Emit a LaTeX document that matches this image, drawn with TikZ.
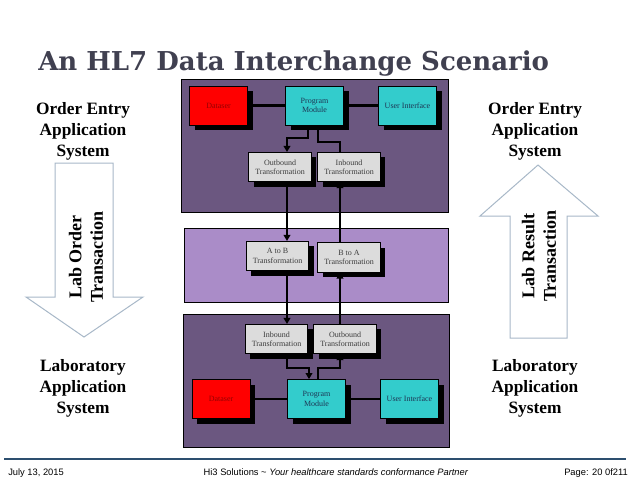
\documentclass[tikz,border=0pt]{standalone}
\usepackage{fontspec}
\setmainfont{Liberation Serif}
\newfontfamily\titlefont{DejaVu Serif}
\newfontfamily\footfont{Liberation Sans}
\usetikzlibrary{arrows.meta}
\definecolor{panelDark}{RGB}{107,87,128}
\definecolor{panelLight}{RGB}{170,140,200}
\definecolor{boxRed}{RGB}{255,0,0}
\definecolor{boxCyan}{RGB}{51,204,204}
\definecolor{boxGray}{RGB}{220,220,220}
\definecolor{txtRed}{RGB}{150,0,0}
\definecolor{txtBlue}{RGB}{30,55,85}
\definecolor{txtGray}{RGB}{60,60,60}
\definecolor{titleGray}{RGB}{64,64,80}
\definecolor{bigArrow}{RGB}{168,184,200}
\definecolor{footBlue}{RGB}{45,79,111}
\tikzset{
  box/.style={draw=black, line width=0.6pt, inner sep=0pt, align=center,
    font=\fontsize{6}{7}\selectfont,
    preaction={fill=black, transform canvas={xshift=3.75pt,yshift=-3.75pt}}},
  bigbox/.style={box, minimum width=43.5pt, minimum height=29.25pt},
  dsbox/.style={bigbox, fill=boxRed, text=txtRed},
  cybox/.style={bigbox, fill=boxCyan, text=txtBlue},
  xfbox/.style={box, fill=boxGray, text=txtGray, minimum width=47pt, minimum height=22pt},
  panel/.style={draw=black, line width=0.6pt},
  conn/.style={draw=black, line width=2.2pt},
  arr/.style={conn, -{Triangle[length=4.5pt,width=5pt]}},
  sidelbl/.style={align=center, font=\bfseries\fontsize{13}{15.75}\selectfont},
  translbl/.style={align=center, rotate=90, font=\bfseries\fontsize{13.5}{16}\selectfont},
  bigarrow/.style={draw=bigArrow, fill=white, line width=0.75pt},
  foot/.style={inner sep=0pt, font=\footfont\fontsize{7}{8}\selectfont}
}
\begin{document}
\begin{tikzpicture}[x=0.75pt,y=0.75pt,yscale=-1,xscale=1]
\useasboundingbox (0,0) rectangle (638,479);
\node [anchor=base west, inner sep=0pt, text=titleGray, font=\titlefont\bfseries\fontsize{19.5}{24}\selectfont] (title) at (38,70) {An HL7 Data Interchange Scenario};

% panels
\draw [panel, fill=panelDark] (181,79) rectangle (448,212);
\draw [panel, fill=panelLight] (184,228) rectangle (448,302);
\draw [panel, fill=panelDark] (183,314) rectangle (449,447);

\coordinate (colL) at (287,0);
\coordinate (colR) at (340,0);

% order entry side
\node [dsbox] (dsA) at (218.5,105.5) {Dataser};
\node [cybox] (pmA) at (314.5,105.5) {Program\\Module};
\node [cybox] (uiA) at (407.5,105.5) {User Interface};
\node [xfbox] (outA) at (280,167) {Outbound\\Transformation};
\node [xfbox] (inA) at (349,167) {Inbound\\Transformation};

% interface engine
\node [xfbox] (ab) at (277.5,256) {A to B\\Transformation};
\node [xfbox] (ba) at (349,257.5) {B to A\\Transformation};

% laboratory side
\node [xfbox] (inB) at (276.5,339) {Inbound\\Transformation};
\node [xfbox] (outB) at (345,339) {Outbound\\Transformation};
\node [dsbox] (dsB) at (221,399) {Dataser};
\node [cybox] (pmB) at (316.5,399) {Program\\Module};
\node [cybox] (uiB) at (409.5,399) {User Interface};

\draw [conn] (dsA) -- (pmA);
\draw [conn] (pmA) -- (uiA);
\draw [conn] (dsB) -- (pmB);
\draw [conn] (pmB) -- (uiB);

\coordinate (tA1) at (308,138);
\coordinate (tA2) at (318,142);
\draw [arr] (pmA.south -| tA1) -- (tA1) -| (outA.north -| colL);
\draw [conn] (inA.north -| colR) |- (tA2) -- (pmA.south -| tA2);

\draw [arr] (outA.south -| colL) -- (ab.north -| colL);
\draw [arr] (ab.south -| colL) -- (inB.north -| colL);
\draw [arr] (outB.north -| colR) -- (ba.south -| colR);
\draw [arr] (ba.north -| colR) -- (inA.south -| colR);

\coordinate (bA1) at (309,368);
\coordinate (bA2) at (318,368);
\draw [arr] (inB.south -| colL) |- (bA1) -- (pmB.north -| bA1);
\draw [arr] (pmB.north -| bA2) -- (bA2) -| (outB.south -| colR);

% side labels
\node [sidelbl] (oeL) at (83,131) {Order Entry\\Application\\System};
\node [sidelbl] (oeR) at (535,131) {Order Entry\\Application\\System};
\node [sidelbl] (labL) at (83,388) {Laboratory\\Application\\System};
\node [sidelbl] (labR) at (535,388) {Laboratory\\Application\\System};

\draw [bigarrow] (55,163) -- (113,163) -- (113,297) -- (143,297) -- (84,337) -- (26,297) -- (55,297) -- cycle;
\draw [bigarrow] (538,165) -- (598,216) -- (567,216) -- (567,338) -- (510,338) -- (510,216) -- (480,216) -- cycle;
\node [translbl] (order) at (86,257) {Lab Order\\Transaction};
\node [translbl] (result) at (539,256) {Lab Result\\Transaction};

% footer
\draw [footBlue, line width=1pt] (4,459) -- (626,459);
\node [foot, anchor=base west] (date) at (8,475) {July 13, 2015};
\node [foot, anchor=base] (partner) at (336,475) {Hi3 Solutions \textasciitilde\ \textit{Your healthcare standards conformance Partner}};
\node [foot, anchor=base east] (page) at (628,475) {Page: 20 0f211};
\end{tikzpicture}
\end{document}
